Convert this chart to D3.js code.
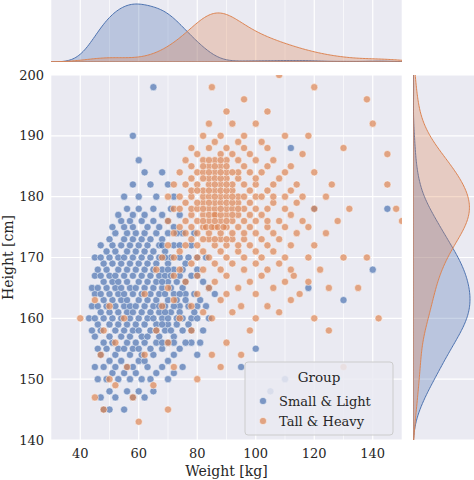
<!DOCTYPE html><html><head><meta charset="utf-8">
<script src="https://cdn.jsdelivr.net/npm/d3@7"></script>
<style>body{margin:0;background:#fff}text{font-family:"DejaVu Serif",serif}</style></head><body>
<svg id="c" width="474" height="480"></svg>
<script>
const groups=["Small & Light","Tall & Heavy"];
const colors=["#4c72b0","#dd8452"];
const xTicks=[40,60,80,100,120,140];
const yTicks=[140,150,160,170,180,190,200];
// rows: "height:w,w,w"
const blueRows=`145:48,50,55|147:47,52,58,62|148:50,56,60,65|150:46,49,53,57,61,64,70|151:51,55,59,66,72|152:45,48,52,56,58,63,68,75|153:50,54,60,62,70|154:47,52,57,61,65,72,80|155:46,49,53,55,58,60,64,68,74|156:48,51,56,59,62,66,70,78|157:45,50,54,57,61,63,67,72|158:44,47,52,55,58,60,64,69,75,82|159:46,50,53,56,59,62,66,70|160:43,45,48,51,54,57,60,63,65,68,73,78|161:47,50,53,56,58,61,64,67,71|162:44,46,49,52,55,57,59,62,65,69,74,80|163:48,51,54,56,60,63,66,70|164:45,47,50,53,55,58,61,64,67,72,76|165:44,46,49,52,54,57,59,62,65,68,71,75,84|166:48,51,53,56,60,63,66,70,73|167:45,47,50,52,55,58,61,64,67,69,74,78|168:46,49,53,56,59,62,65,68,72|169:48,51,54,57,60,63,66,70,76|170:45,47,50,53,55,58,61,64,67,71,74,80|171:49,52,56,59,62,65,69|172:47,51,54,57,60,63,67,72,78|173:50,55,58,61,64,68|174:52,56,59,62,66,70,75|175:51,55,58,63,67,72|176:54,57,61,65,70|177:53,58,62,68,74|178:56,60,65,71|180:55,60,66,72|182:58,64,70|184:62,68|186:60|190:58|198:65|188:112|165:118|163:130|178:145|168:140|178:120|148:105|150:110|155:100|152:95|156:68,72,76,81|158:66,71,78|160:70,75,80,84|162:67,72,77,83|164:69,74,79,86|166:68,76,82|168:70,75,80|170:69,77,83|172:68,74|174:73,79|159:68,73,77|163:73,76,81|167:71,80|161:69,74,79`;
const orangeRows=`143:60|145:48,70|147:45,58|149:52,65|150:50,80|152:56,72,88|154:47,62,85,95|156:52,70,90|158:48,66,78,98|160:40,55,74,85,100,120|161:82,92,108|162:50,68,78,95,104|163:45,72,88,112|164:62,80,90,100,115|165:70,84,94,106,125|166:76,86,98,110,118|167:72,80,90,102,113|168:66,74,82,88,96,104,112,122|169:78,86,92,100,108|170:68,72,80,84,90,96,102,110,118,130|171:74,82,88,94,100,106|172:70,76,80,86,90,94,98,104,112,120|173:78,84,88,92,96,102,108|174:72,76,80,84,88,92,96,100,106,114,124|175:74,78,82,86,90,94,98,104,110,118|176:70,76,80,84,88,92,96,100,104,108,116,128|177:78,82,86,90,94,98,102,112|178:72,74,78,80,84,86,90,92,96,100,104,110,120,132|179:76,82,86,88,94,98,106,114|180:70,74,78,82,84,88,90,94,96,100,102,106,110,116,124|181:78,82,86,92,98,104,112|182:72,76,80,84,88,92,96,100,106,114,126|183:78,84,90,94,100,108|184:74,80,82,86,90,94,98,102,110,120|185:78,84,88,96,104,112|186:76,82,86,90,94,100,106|187:80,88,92,98,116,145|188:78,84,90,96,104,130|189:86,94,102|190:82,88,96,110,118|192:84,92,100,140|194:90,104|196:96,138|198:85,120|200:108|178:148|182:145|176:150|160:142|165:135|170:138|158:125|152:130|175:83,85,87,89|177:84,86,88,92|179:80,84,90,92|181:80,84,88,90|183:82,86,88|185:82,86,90|173:82,86,90|176:82,86,90|180:86,92|182:86,90|184:84,88,92|178:82,88,94|186:84,88`;
function parse(s,g){const o=[];s.split("|").forEach(r=>{const [h,ws]=r.split(":");ws.split(",").forEach(w=>o.push({w:+w,h:+h,g}));});return o;}
const data=[...parse(blueRows,0),...parse(orangeRows,1)];

const svg=d3.select("#c");
const L=51,R=402,T=75,B=440;
const x=d3.scaleLinear().domain([30,150]).range([L,R]);
const y=d3.scaleLinear().domain([140,200]).range([B,T]);
const bg="#eaeaf2";
svg.append("rect").attr("x",L).attr("y",T).attr("width",R-L).attr("height",B-T).attr("fill",bg);
svg.append("rect").attr("x",L).attr("y",0).attr("width",R-L).attr("height",62).attr("fill",bg);
svg.append("rect").attr("x",413).attr("y",T).attr("width",61).attr("height",B-T).attr("fill",bg);
const xs=d3.range(30,151,10), ys=d3.range(140,201,10);
svg.append("g").selectAll("line").data(xs).join("line").attr("x1",d=>x(d)).attr("x2",d=>x(d)).attr("y1",T).attr("y2",B).attr("stroke","#fff").attr("stroke-width",d=>d%20==0?1.2:0.6);
svg.append("g").selectAll("line").data(ys).join("line").attr("y1",d=>y(d)).attr("y2",d=>y(d)).attr("x1",L).attr("x2",R).attr("stroke","#fff").attr("stroke-width",1.2);
svg.append("g").selectAll("line").data(xs).join("line").attr("x1",d=>x(d)).attr("x2",d=>x(d)).attr("y1",0).attr("y2",62).attr("stroke","#fff").attr("stroke-width",d=>d%20==0?1.2:0.6);
svg.append("g").selectAll("line").data(ys).join("line").attr("y1",d=>y(d)).attr("y2",d=>y(d)).attr("x1",413).attr("x2",474).attr("stroke","#fff").attr("stroke-width",1.2);
svg.append("clipPath").attr("id","cp").append("rect").attr("x",L).attr("y",T).attr("width",R-L).attr("height",B-T);
svg.append("g").attr("clip-path","url(#cp)").selectAll("circle").data(data).join("circle")
 .attr("cx",d=>x(d.w)).attr("cy",d=>y(d.h)).attr("r",3.6).attr("fill",d=>colors[d.g]).attr("fill-opacity",0.7).attr("stroke","#fff").attr("stroke-width",0.5);
// KDE (common normalisation, as seaborn)
function kde(vals,grid){const n=vals.length,sd=d3.deviation(vals),bw=sd*Math.pow(n,-0.2);return grid.map(g=>[g,d3.sum(vals,v=>Math.exp(-0.5*((g-v)/bw)**2))/(bw*Math.sqrt(2*Math.PI))]);}
const gx=d3.range(20,160.1,0.5), gy=d3.range(135,205.1,0.25);
const kx=[0,1].map(g=>kde(data.filter(d=>d.g==g).map(d=>d.w),gx));
const ky=[0,1].map(g=>kde(data.filter(d=>d.g==g).map(d=>d.h),gy));
const mx=d3.max(kx.flat(),d=>d[1]), my=d3.max(ky.flat(),d=>d[1]);
const dx=d3.scaleLinear().domain([0,mx]).range([62,4]);
const dy=d3.scaleLinear().domain([0,my]).range([413,470]);
svg.append("clipPath").attr("id","ct").append("rect").attr("x",L).attr("y",0).attr("width",R-L).attr("height",62);
svg.append("clipPath").attr("id","cr").append("rect").attr("x",413).attr("y",T).attr("width",61).attr("height",B-T);
kx.forEach((k,i)=>svg.append("path").attr("clip-path","url(#ct)").datum(k).attr("d",d3.area().x(d=>x(d[0])).y0(62).y1(d=>dx(d[1])).curve(d3.curveBasis)).attr("fill",colors[i]).attr("fill-opacity",0.3).attr("stroke",colors[i]).attr("stroke-width",1));
ky.forEach((k,i)=>svg.append("path").attr("clip-path","url(#cr)").datum(k).attr("d",d3.area().y(d=>y(d[0])).x0(413).x1(d=>dy(d[1])).curve(d3.curveBasis)).attr("fill",colors[i]).attr("fill-opacity",0.3).attr("stroke",colors[i]).attr("stroke-width",1));
// ticks
svg.append("g").selectAll("text").data(xTicks).join("text").attr("x",d=>x(d)).attr("y",458).attr("text-anchor","middle").attr("font-size",13).attr("fill","#262626").text(d=>d);
svg.append("g").selectAll("text").data(yTicks).join("text").attr("x",44).attr("y",d=>y(d)+4.5).attr("text-anchor","end").attr("font-size",13).attr("fill","#262626").text(d=>d);
svg.append("text").attr("x",x(90)).attr("y",476).attr("text-anchor","middle").attr("font-size",14).attr("fill","#262626").text("Weight [kg]");
svg.append("text").attr("transform",`translate(13,${(T+B)/2}) rotate(-90)`).attr("text-anchor","middle").attr("font-size",14).attr("fill","#262626").text("Height [cm]");
// legend
const lg=svg.append("g").attr("transform","translate(245,362)");
lg.append("rect").attr("width",148).attr("height",73).attr("rx",3).attr("fill",bg).attr("fill-opacity",0.85).attr("stroke","#cccccc");
lg.append("text").attr("x",74).attr("y",20).attr("text-anchor","middle").attr("font-size",13.5).attr("fill","#262626").text("Group");
groups.forEach((g,i)=>{lg.append("circle").attr("cx",18).attr("cy",39+i*20).attr("r",3.6).attr("fill",colors[i]).attr("fill-opacity",0.7).attr("stroke","#fff").attr("stroke-width",0.5);
 lg.append("text").attr("x",34).attr("y",43.5+i*20).attr("font-size",13).attr("fill","#262626").text(g);});
</script></body></html>
